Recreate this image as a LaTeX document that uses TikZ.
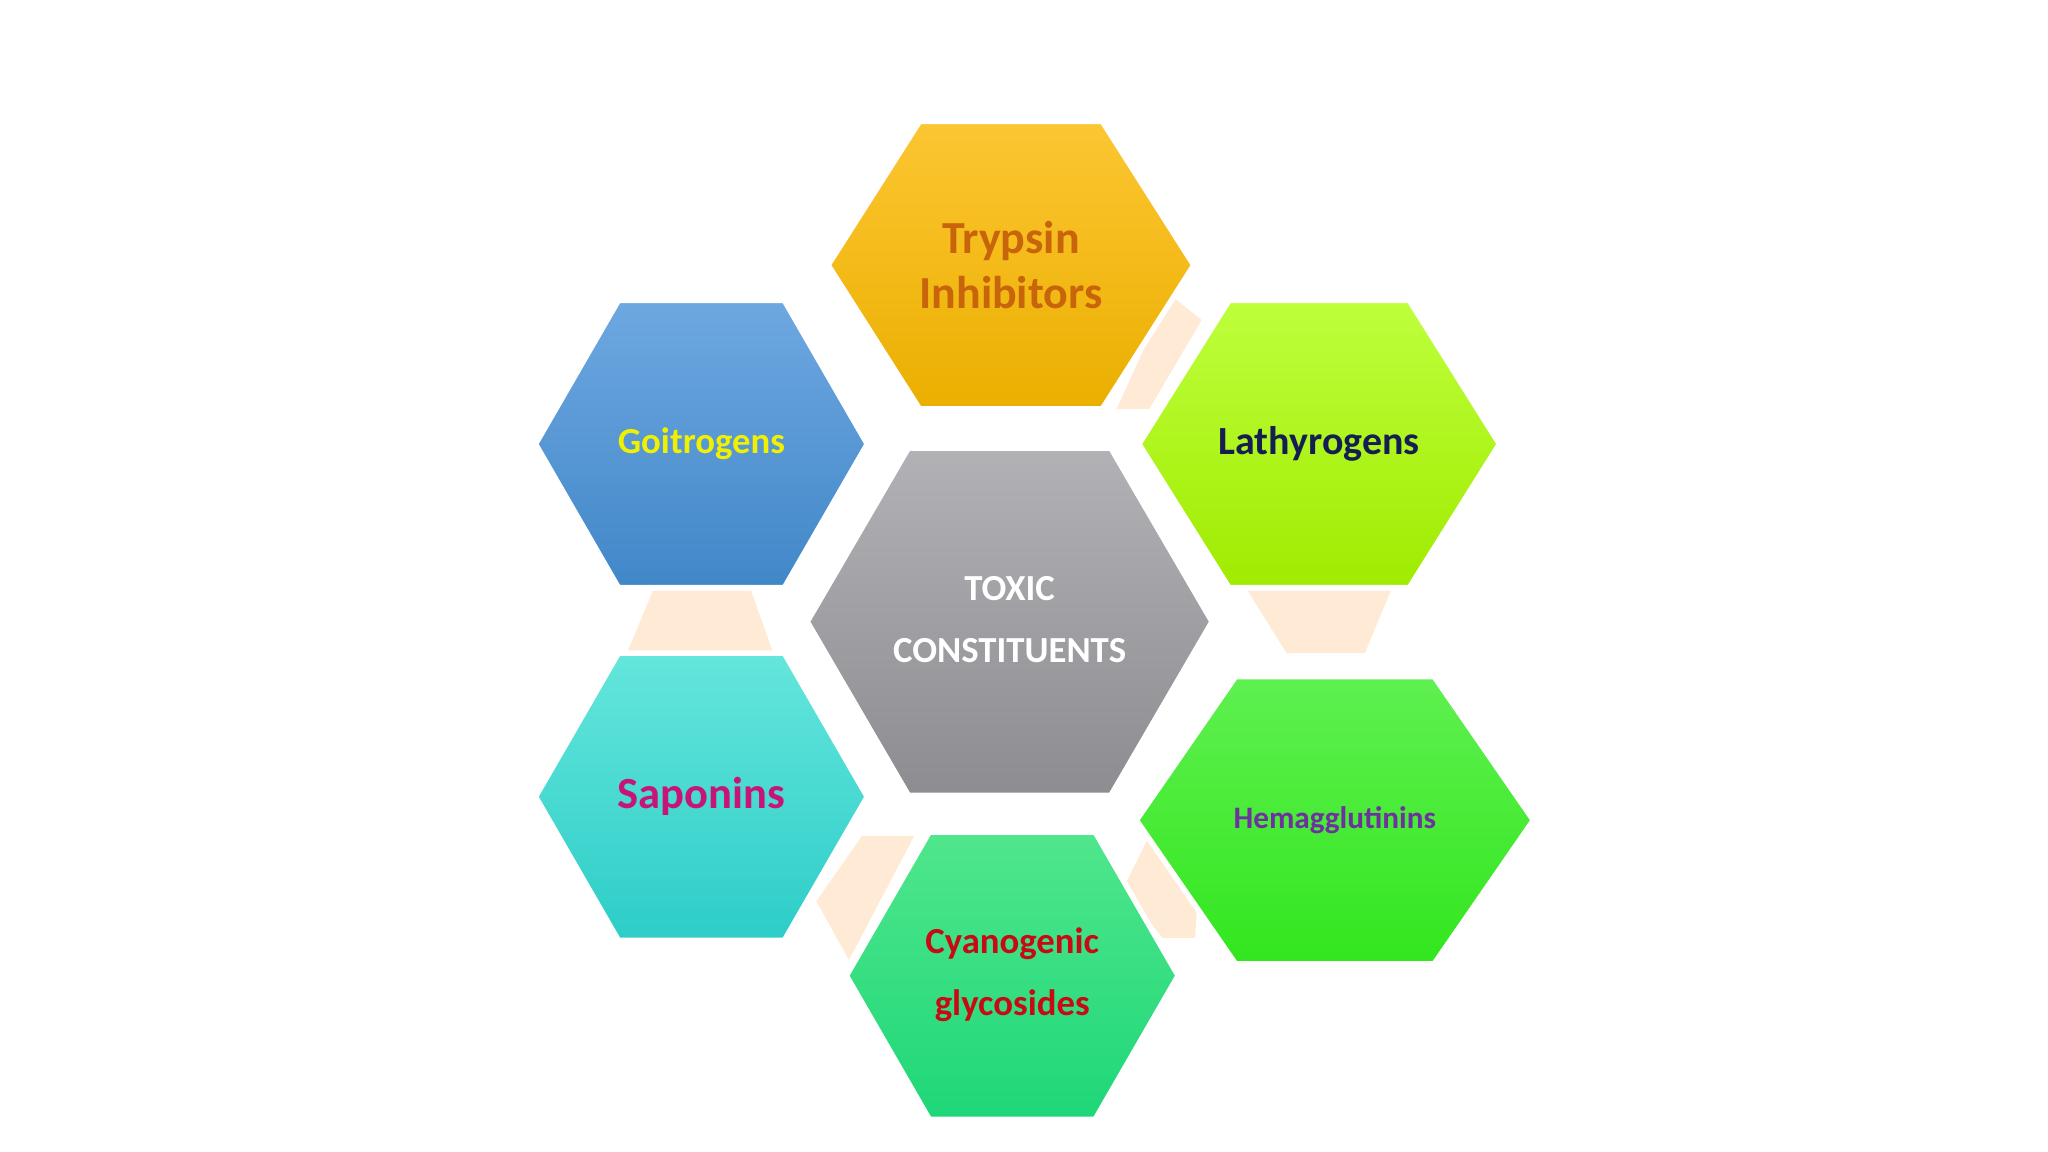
\documentclass[tikz,border=0pt]{standalone}
\usepackage{fontspec}
\setmainfont{Carlito}
\begin{document}
\begin{tikzpicture}[x=0.01cm,y=-0.01cm,
  lbl/.style={font=\bfseries,align=center,inner sep=0pt},
  link/.style={fill=orange!20!white,opacity=0.8},
  rim/.style={draw=white,line width=1.2pt}]
\useasboundingbox (0,0) rectangle (1568,882);
\newcommand{\hexa}[6]{% cx cy hw hh top bottom
  \shade[top color=#5,bottom color=#6] (#1-#3,#2) -- (#1-#3/2,#2-#4) -- (#1+#3/2,#2-#4) -- (#1+#3,#2) -- (#1+#3/2,#2+#4) -- (#1-#3/2,#2+#4) -- cycle;
  \draw[rim] (#1-#3,#2) -- (#1-#3/2,#2-#4) -- (#1+#3/2,#2-#4) -- (#1+#3,#2) -- (#1+#3/2,#2+#4) -- (#1-#3/2,#2+#4) -- cycle;}
% links
\fill[link] (855,313) -- (895,225) -- (920,245) -- (880,313) -- cycle;
\fill[link] (480,500) -- (500,452) -- (575,452) -- (592,500) -- cycle;
\fill[link] (955,452) -- (1065,452) -- (1045,500) -- (985,500) -- cycle;
\fill[link] (625,690) -- (660,640) -- (700,640) -- (650,735) -- cycle;
\fill[link] (860,680) -- (880,640) -- (920,640) -- (915,718) -- (890,718) -- cycle;
\definecolor{grT}{RGB}{178,178,182}\definecolor{grB}{RGB}{140,140,145}
\definecolor{yT}{RGB}{252,198,50}\definecolor{yB}{RGB}{235,175,0}
\definecolor{bT}{RGB}{110,168,225}\definecolor{bB}{RGB}{65,135,200}
\definecolor{lT}{RGB}{190,255,60}\definecolor{lB}{RGB}{160,235,0}
\definecolor{cT}{RGB}{100,230,220}\definecolor{cB}{RGB}{45,205,200}
\definecolor{gT}{RGB}{95,240,80}\definecolor{gB}{RGB}{50,230,30}
\definecolor{sT}{RGB}{80,230,140}\definecolor{sB}{RGB}{30,215,120}
\hexa{773}{476}{155}{133}{grT}{grB}
\hexa{774}{203}{140}{110}{yT}{yB}
\hexa{537}{340}{127}{110}{bT}{bB}
\hexa{1010}{340}{138}{110}{lT}{lB}
\hexa{537}{610}{127}{110}{cT}{cB}
\hexa{1022}{628}{152}{110}{gT}{gB}
\hexa{775}{747}{127}{110}{sT}{sB}
\node[lbl,text=white,font=\bfseries\fontsize{8}{13.5}\selectfont] (c) at (773,474) {TOXIC\\CONSTITUENTS};
\node[lbl,text={rgb,255:red,200;green,100;blue,10},font=\bfseries\fontsize{10}{12}\selectfont] (t) at (774,203) {Trypsin\\Inhibitors};
\node[lbl,text={rgb,255:red,240;green,240;blue,0},font=\bfseries\fontsize{8}{10}\selectfont] (g) at (537,340) {Goitrogens};
\node[lbl,text={rgb,255:red,20;green,30;blue,80},font=\bfseries\fontsize{8.7}{10}\selectfont] (l) at (1010,340) {Lathyrogens};
\node[lbl,text={rgb,255:red,200;green,20;blue,120},font=\bfseries\fontsize{9.7}{10}\selectfont] (s) at (537,610) {Saponins};
\node[lbl,text={rgb,255:red,110;green,50;blue,160},font=\bfseries\fontsize{6.8}{10}\selectfont] (h) at (1022,628) {Hemagglutinins};
\node[lbl,text={rgb,255:red,200;green,10;blue,20},font=\bfseries\fontsize{8}{13.5}\selectfont] (y) at (775,746) {Cyanogenic\\glycosides};
\end{tikzpicture}
\end{document}
